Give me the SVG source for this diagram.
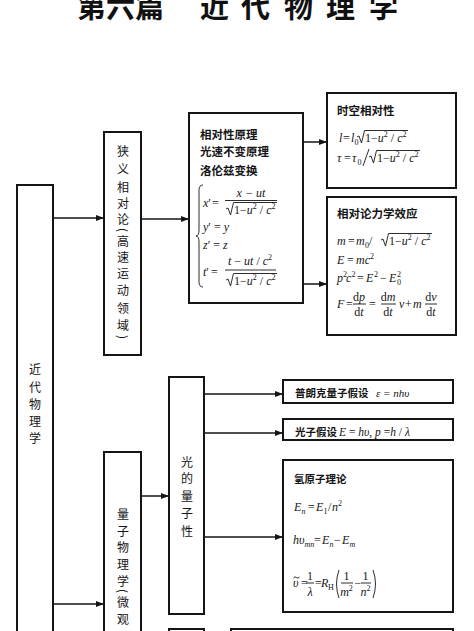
<svg xmlns="http://www.w3.org/2000/svg" xmlns:xlink="http://www.w3.org/1999/xlink" width="474" height="631" viewBox="0 0 474 631">
<style>
.box{fill:none;stroke:#151515;stroke-width:2}
.ln{fill:none;stroke:#151515;stroke-width:1.5}
.th{fill:none;stroke:#151515;stroke-width:0.9}
.hd{font-family:"Noto Sans CJK SC","Noto Sans CJK TC",sans-serif;font-size:11.5px;font-weight:bold;fill:#151515}
.hs{font-family:"Noto Sans CJK SC","Noto Sans CJK TC",sans-serif;font-size:10.5px;font-weight:bold;fill:#151515}
.vt{font-family:"Noto Sans CJK SC","Noto Sans CJK TC",sans-serif;font-size:12px;fill:#151515;text-anchor:middle}
.tt{font-family:"Noto Sans CJK SC","Noto Sans CJK TC",sans-serif;font-size:29px;font-weight:bold;fill:#111}
.m{font-family:"Liberation Serif","Times New Roman",serif;font-size:12px;fill:#151515}
.i{font-style:italic}
.s{font-size:8px}
.c{text-anchor:middle}
</style>
<defs>
<marker id="ah" markerWidth="8" markerHeight="6" refX="8" refY="3" orient="auto" markerUnits="userSpaceOnUse">
<path d="M0,0 L8,3 L0,6 z" fill="#151515"/>
</marker>
<g id="rad">
<path class="th" d="M0,-5 L2,-6 L4.5,1 L7.5,-11.5 H51"/>
<text class="m" x="8" y="0">1−<tspan class="i">u</tspan><tspan class="s" dy="-5">2</tspan><tspan dy="5"> / </tspan><tspan class="i">c</tspan><tspan class="s" dy="-5">2</tspan></text>
</g>
</defs>
<rect width="474" height="631" fill="#fff"/>

<g id="title">
<text class="tt" x="77" y="18">第六篇</text>
<text class="tt" x="200" y="18">近</text>
<text class="tt" x="241" y="18">代</text>
<text class="tt" x="284" y="18">物</text>
<text class="tt" x="326" y="18">理</text>
<text class="tt" x="369" y="18">学</text>
</g>

<g id="connectors">
<path class="ln" d="M53,218 H104" marker-end="url(#ah)"/>
<path class="ln" d="M141,219 H189" marker-end="url(#ah)"/>
<path class="ln" d="M303,142 H327" marker-end="url(#ah)"/>
<path class="ln" d="M303,284 H327" marker-end="url(#ah)"/>
<path class="ln" d="M53,604 H104" marker-end="url(#ah)"/>
<path class="ln" d="M141,496 H169" marker-end="url(#ah)"/>
<path class="ln" d="M204,394 H283" marker-end="url(#ah)"/>
<path class="ln" d="M204,433 H283" marker-end="url(#ah)"/>
<path class="ln" d="M204,537 H283" marker-end="url(#ah)"/>
</g>

<g id="modern-physics">
<rect class="box" x="17" y="185" width="36" height="470"/>
<text class="vt" x="35" y="373.5">近</text>
<text class="vt" x="35" y="391.5">代</text>
<text class="vt" x="35" y="408.5">物</text>
<text class="vt" x="35" y="425.5">理</text>
<text class="vt" x="35" y="442.5">学</text>
</g>

<g id="special-relativity">
<rect class="box" x="104" y="132" width="37" height="223"/>
<text class="vt" x="123" y="155.5">狭</text>
<text class="vt" x="123" y="173.5">义</text>
<text class="vt" x="123" y="191.5">相</text>
<text class="vt" x="123" y="207.5">对</text>
<text class="vt" x="123" y="223.5">论</text>
<text class="vt" x="123" y="230" dominant-baseline="central" transform="rotate(90 123 230)">(</text>
<text class="vt" x="123" y="245.5">高</text>
<text class="vt" x="123" y="261.5">速</text>
<text class="vt" x="123" y="277.5">运</text>
<text class="vt" x="123" y="294.5">动</text>
<text class="vt" x="123" y="312.5">领</text>
<text class="vt" x="123" y="329.5">域</text>
<text class="vt" x="123" y="337" dominant-baseline="central" transform="rotate(90 123 337)">)</text>
</g>

<g id="lorentz">
<rect class="box" x="189" y="113" width="114" height="190"/>
<text class="hd" x="200" y="138.5">相对性原理</text>
<text class="hd" x="200" y="156">光速不变原理</text>
<text class="hd" x="200" y="174.5">洛伦兹变换</text>
<path class="th" d="M203,185 Q199,185 199,190 L199,230 Q199,236 196,236 Q199,236 199,242 L199,282 Q199,287 203,287"/>
<text class="m" y="207"><tspan class="i" x="203">x</tspan><tspan>′</tspan><tspan x="212">=</tspan></text>
<text class="m i c" x="251" y="197">x − ut</text>
<path class="th" d="M225,200.5 H277"/>
<use xlink:href="#rad" x="226" y="214"/>
<text class="m" y="231"><tspan class="i" x="203">y</tspan><tspan>′ = </tspan><tspan class="i">y</tspan></text>
<text class="m" y="249"><tspan class="i" x="203">z</tspan><tspan>′ = </tspan><tspan class="i">z</tspan></text>
<text class="m" y="276"><tspan class="i" x="203">t</tspan><tspan>′</tspan><tspan x="211">=</tspan></text>
<text class="m c" x="250" y="265"><tspan class="i">t</tspan> − <tspan class="i">ut</tspan> / <tspan class="i">c</tspan><tspan class="s" dy="-5">2</tspan></text>
<path class="th" d="M225,270 H276"/>
<use xlink:href="#rad" x="226" y="285"/>
</g>

<g id="spacetime">
<rect class="box" x="327" y="93" width="129" height="95"/>
<text class="hd" x="337" y="114.5">时空相对性</text>
<text class="m" y="142"><tspan class="i" x="339">l</tspan><tspan x="343">=</tspan><tspan class="i" x="351">l</tspan><tspan class="s" x="354.5" dy="3">0</tspan></text>
<use xlink:href="#rad" x="357" y="142"/>
<text class="m" y="162"><tspan class="i" x="337">τ</tspan><tspan x="344">=</tspan><tspan class="i" x="352">τ</tspan><tspan class="s" x="357.5" dy="3">0</tspan></text>
<path class="th" d="M363,166 L369,149"/>
<use xlink:href="#rad" x="369" y="162"/>
</g>

<g id="mechanics">
<rect class="box" x="327" y="197" width="129" height="138"/>
<text class="hd" x="337" y="217.5">相对论力学效应</text>
<text class="m" y="245"><tspan class="i" x="337">m</tspan><tspan x="348">=</tspan><tspan class="i" x="356">m</tspan><tspan class="s" x="365" dy="3">0</tspan><tspan x="369" dy="-3">/</tspan></text>
<use xlink:href="#rad" x="381" y="245"/>
<text class="m" y="264"><tspan class="i" x="337">E</tspan><tspan x="347">=</tspan><tspan class="i" x="356">mc</tspan><tspan class="s" dy="-5">2</tspan></text>
<text class="m" y="282"><tspan class="i" x="337">p</tspan><tspan class="s" x="343" dy="-5">2</tspan><tspan class="i" x="346" dy="5">c</tspan><tspan class="s" x="351.5" dy="-5">2</tspan><tspan x="357" dy="5">=</tspan><tspan class="i" x="366">E</tspan><tspan class="s" x="374" dy="-5">2</tspan><tspan x="380" dy="5">−</tspan><tspan class="i" x="389">E</tspan><tspan class="s" x="397" dy="-5">2</tspan><tspan class="s" x="397" dy="8">0</tspan></text>
<text class="m" y="308"><tspan class="i" x="337">F</tspan><tspan x="346">=</tspan></text>
<text class="m c" x="359" y="300.5">d<tspan class="i">p</tspan></text>
<path class="th" d="M353,304 H366"/>
<text class="m c" x="359" y="316">d<tspan class="i">t</tspan></text>
<text class="m" x="369" y="308">=</text>
<text class="m c" x="388" y="300.5">d<tspan class="i">m</tspan></text>
<path class="th" d="M381,304 H396"/>
<text class="m c" x="388" y="316">d<tspan class="i">t</tspan></text>
<text class="m" y="308"><tspan class="i" x="399">v</tspan><tspan x="405">+</tspan><tspan class="i" x="413">m</tspan></text>
<text class="m c" x="431" y="300.5">d<tspan class="i">v</tspan></text>
<path class="th" d="M425,304 H437"/>
<text class="m c" x="431" y="316">d<tspan class="i">t</tspan></text>
</g>

<g id="light-quantum">
<rect class="box" x="169" y="377" width="35" height="237"/>
<text class="vt" x="187" y="466.5">光</text>
<text class="vt" x="187" y="482.5">的</text>
<text class="vt" x="187" y="500.5">量</text>
<text class="vt" x="187" y="517.5">子</text>
<text class="vt" x="187" y="535.5">性</text>
</g>

<g id="quantum-physics">
<rect class="box" x="104" y="452" width="37" height="200"/>
<text class="vt" x="123" y="518.5">量</text>
<text class="vt" x="123" y="535.5">子</text>
<text class="vt" x="123" y="551.5">物</text>
<text class="vt" x="123" y="568.5">理</text>
<text class="vt" x="123" y="586">学</text>
<text class="vt" x="123" y="591" dominant-baseline="central" transform="rotate(90 123 591)">(</text>
<text class="vt" x="123" y="606.5">微</text>
<text class="vt" x="123" y="623.5">观</text>
</g>

<g id="planck">
<rect class="box" x="283" y="380" width="170" height="23"/>
<text class="hs" x="295" y="397">普朗克量子假设</text>
<text class="m i" x="376" y="397" style="font-size:11px">ε = nhυ</text>
</g>

<g id="photon">
<rect class="box" x="283" y="419" width="170" height="21"/>
<text class="hs" x="295" y="436">光子假设</text>
<text class="m" x="339" y="436" style="font-size:11.5px"><tspan class="i">E</tspan> = <tspan class="i">h</tspan><tspan class="i">υ</tspan>, <tspan class="i">p</tspan> =<tspan class="i">h</tspan> / <tspan class="i">λ</tspan></text>
</g>

<g id="hydrogen">
<rect class="box" x="283" y="460" width="170" height="152"/>
<text class="hs" x="294" y="482.5">氢原子理论</text>
<text class="m" y="511"><tspan class="i" x="294">E</tspan><tspan class="s i" x="301.5" dy="3">n</tspan><tspan x="308" dy="-3">=</tspan><tspan class="i" x="316">E</tspan><tspan class="s" x="323.5" dy="3">1</tspan><tspan x="328" dy="-3">/</tspan><tspan class="i" x="332">n</tspan><tspan class="s" x="338" dy="-5">2</tspan></text>
<text class="m" y="544"><tspan class="i" x="293">h</tspan><tspan class="i" x="299">υ</tspan><tspan class="s i" x="304.5" dy="3">mn</tspan><tspan x="314" dy="-3">=</tspan><tspan class="i" x="322">E</tspan><tspan class="s i" x="329.5" dy="3">n</tspan><tspan x="334" dy="-3">−</tspan><tspan class="i" x="342">E</tspan><tspan class="s i" x="349.5" dy="3">m</tspan></text>
<text class="m i" x="293" y="587">υ</text>
<path class="th" d="M293.5,578 Q295,576 296.5,577.5 Q298,579 299.5,577"/>
<text class="m" x="301" y="587">=</text>
<text class="m c" x="310" y="580">1</text>
<path class="th" d="M306,583 H314"/>
<text class="m i c" x="310" y="596">λ</text>
<text class="m" x="315" y="587">=</text>
<text class="m i" x="321" y="587">R</text>
<text class="m s" x="328" y="590">H</text>
<path class="th" d="M339,570 Q334,584 339,598"/>
<text class="m c" x="346.5" y="580">1</text>
<path class="th" d="M341,583 H353"/>
<text class="m c" x="346.5" y="596"><tspan class="i">m</tspan><tspan class="s" dy="-5">2</tspan></text>
<text class="m" x="354.5" y="587">−</text>
<text class="m c" x="365.5" y="580">1</text>
<path class="th" d="M361,583 H371"/>
<text class="m c" x="365.5" y="596"><tspan class="i">n</tspan><tspan class="s" dy="-5">2</tspan></text>
<path class="th" d="M373,570 Q378,584 373,598"/>
</g>

<g id="bottom-left">
<rect class="box" x="169" y="629" width="35" height="20"/>
</g>
<g id="bottom-right">
<rect class="box" x="231" y="629" width="222" height="20"/>
</g>
</svg>
